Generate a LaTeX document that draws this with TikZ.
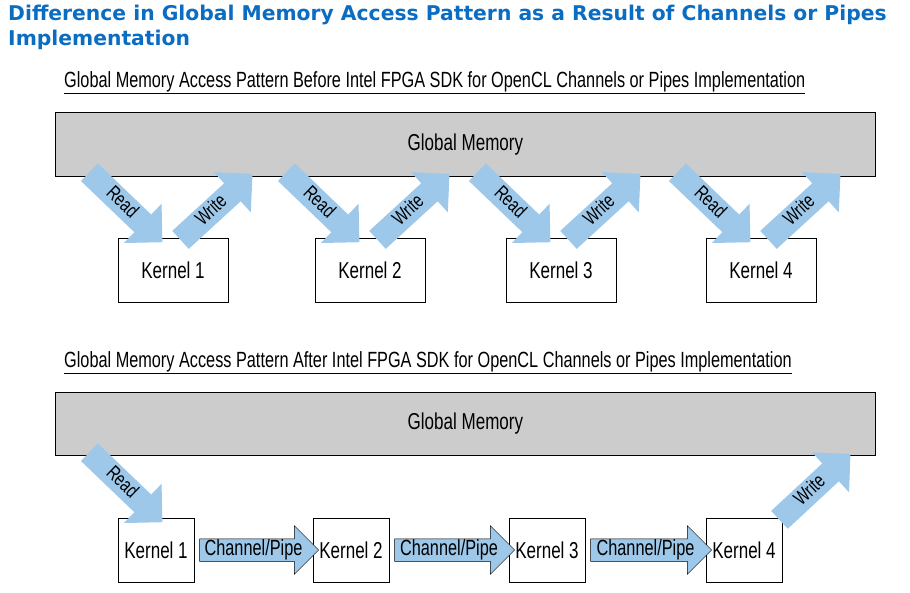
\documentclass[tikz,border=0pt]{standalone}
\usepackage{fontspec}
\setmainfont{Liberation Sans}
\newfontfamily\titlefont{DejaVu Sans}
\usetikzlibrary{shapes.arrows,calc}
\definecolor{ttl}{HTML}{0B6DC2}
\definecolor{arr}{HTML}{9DC8EA}
\definecolor{mem}{HTML}{CCCCCC}
\newcommand\cx[1]{\scalebox{0.74}[1]{#1}}
\tikzset{
 memory/.style={draw,fill=mem,line width=0.8pt},
 kernel/.style={draw,fill=white,line width=0.8pt,outer sep=0pt,font=\fontsize{23}{23}\selectfont},
 sub/.style={font=\fontsize{22}{22}\selectfont,anchor=base west,inner sep=0pt},
 blk/.style={single arrow,fill=arr,inner sep=2pt,outer sep=0pt,single arrow head extend=15pt,font=\fontsize{20}{20}\selectfont,text height=15pt,text depth=5pt,anchor=center,single arrow head indent=0pt},
}
\newcommand\blockarrow[4]{% name, tail, tip, text
 \path let \p1=(#2), \p2=(#3), \n1={veclen(\x2-\x1,\y2-\y1)}, \n2={atan2(\y2-\y1,\x2-\x1)} in
  node[blk,minimum height=\n1,rotate=\n2] (#1) at ($(#2)!0.5!(#3)$) {\cx{#4}};}
\begin{document}
\begin{tikzpicture}[x=1pt,y=-1pt]
\useasboundingbox (0,0) rectangle (910,592);
\node[anchor=base west,inner sep=0pt,text=ttl,font=\titlefont\bfseries\fontsize{20.3}{20.3}\selectfont] (title) at (8,20) {Difference in Global Memory Access Pattern as a Result of Channels or Pipes};
\node[anchor=base west,inner sep=0pt,text=ttl,font=\titlefont\bfseries\fontsize{20.3}{20.3}\selectfont] (title2) at (8,45) {Implementation};
\node[sub] (s1) at (64,87) {\cx{Global Memory Access Pattern Before Intel FPGA SDK for OpenCL Channels or Pipes Implementation}};
\draw[line width=0.7pt] (s1.south west)++(0,2) -- ($(s1.south east)+(0,2)$);
\node[sub] (s2) at (64,367) {\cx{Global Memory Access Pattern After Intel FPGA SDK for OpenCL Channels or Pipes Implementation}};
\draw[line width=0.7pt] (s2.south west)++(0,2) -- ($(s2.south east)+(0,2)$);
% before
\node[memory,minimum width=820,minimum height=64,anchor=north west,font=\fontsize{23}{23}\selectfont] (m1) at (55,112) {\cx{Global Memory}};
\foreach \i/\l in {1/118,2/315,3/506,4/706}{
 \node[kernel,minimum width=110,minimum height=64,anchor=north west] (k\i) at (\l,238) {\cx{Kernel \i}};
 \coordinate (rt\i) at (\l-33,168); \coordinate (rh\i) at (\l+40,238);
 \coordinate (wt\i) at (\l+58,244); \coordinate (wh\i) at (\l+130,178);
 \blockarrow{r\i}{rt\i}{rh\i}{Read}
 \blockarrow{w\i}{wt\i}{wh\i}{Write}
}
% after
\node[memory,minimum width=820,minimum height=63,anchor=north west,font=\fontsize{23}{23}\selectfont] (m2) at (55,392) {\cx{Global Memory}};
\foreach \i/\l in {1/118,2/313,3/509,4/706}{
 \node[kernel,minimum width=76,minimum height=64,anchor=north west] (b\i) at (\l,518) {\cx{Kernel \i}};
}
\coordinate (brt) at (85,448); \coordinate (brh) at (158,518);
\blockarrow{br}{brt}{brh}{Read}
\coordinate (bwt) at (775,524); \coordinate (bwh) at (846,458);
\blockarrow{bw}{bwt}{bwh}{Write}
\foreach \a/\b in {1/2,2/3,3/4}{
 \path let \p1=(b\a.east), \p2=(b\b.west), \n1={\x2-\x1} in
  node[blk,draw,line width=0.5pt,minimum height=\n1,font=\fontsize{22}{22}\selectfont,inner sep=1pt,text height=15pt,text depth=5pt,single arrow head extend=13pt] (c\a) at ($(b\a.east)!0.5!(b\b.west)$) {\cx{Channel/Pipe}};
}
\end{tikzpicture}
\end{document}
